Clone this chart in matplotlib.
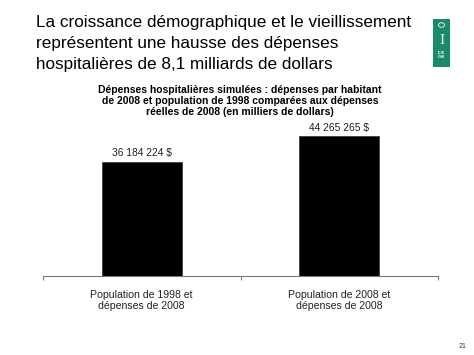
import matplotlib
matplotlib.use("Agg")
import matplotlib.pyplot as plt
from matplotlib.patches import Rectangle, Circle

categories = ["Population de 1998 et\ndépenses de 2008", "Population de 2008 et\ndépenses de 2008"]
values = [36184224, 44265265]
value_labels = ["36 184 224 $", "44 265 265 $"]
title = "La croissance démographique et le vieillissement\nreprésentent une hausse des dépenses\nhospitalières de 8,1 milliards de dollars"
subtitle = "Dépenses hospitalières simulées : dépenses par habitant\nde 2008 et population de 1998 comparées aux dépenses\nréelles de 2008 (en milliers de dollars)"

plt.rcParams['font.family'] = ['Liberation Sans', 'DejaVu Sans']

W, H = 474, 355
fig = plt.figure(figsize=(W / 100, H / 100), dpi=100)

def fx(x):
    return x / W

def fy(y):
    return 1 - y / H

ax_left, ax_right, ax_bottom, ax_top = 43, 438, 276, 125
ax = fig.add_axes([fx(ax_left), fy(ax_bottom), (ax_right - ax_left) / W, (ax_bottom - ax_top) / H])

x = list(range(len(categories)))
ax.bar(x, values, width=0.405, color="black", edgecolor="#333333", linewidth=0.5)
ax.set_xlim(-0.5, 1.5)
ax.set_ylim(0, 47.8e6)

for xi, v, lab in zip(x, values, value_labels):
    ax.annotate(lab, (xi, v), xytext=(0, 2.5), textcoords="offset points",
                ha="center", va="bottom", fontsize=7.4, color="#222222")

for s in ["top", "right", "left"]:
    ax.spines[s].set_visible(False)
ax.spines["bottom"].set_color("#777777")
ax.spines["bottom"].set_linewidth(0.8)
ax.set_yticks([])
ax.set_xticks(x)
ax.set_xticklabels(categories, fontsize=7.6, color="#222222", linespacing=1.1)
ax.tick_params(axis="x", which="major", length=0, pad=10)
ax.set_xticks([-0.5, 0.5, 1.5], minor=True)
ax.tick_params(axis="x", which="minor", length=3, color="#777777", width=0.8)

lines = title.split("\n")
for line, yb in zip(lines, [26.7, 48, 69.3]):
    fig.text(fx(36), fy(yb), line, ha="left", va="baseline", fontsize=12.3, color="black")

fig.text(fx(240), fy(85), subtitle, ha="center", va="top", fontsize=7.5,
         fontweight="bold", color="black", linespacing=1.1)

fig.text(fx(466), fy(346), "21", ha="right", va="center", fontsize=5, color="#333333")

# logo
green = "#1b8a6b"
fig.patches.append(Rectangle((fx(433), fy(67)), 17 / W, 48 / H, transform=fig.transFigure,
                             facecolor=green, edgecolor="none"))
fig.patches.append(Circle((fx(441.5), fy(25)), 3 / W, transform=fig.transFigure,
                          facecolor="none", edgecolor="white", linewidth=0.6))
fig.text(fx(441.5), fy(40), "I", ha="center", va="center", fontsize=11, color="white",
         family="Liberation Serif")
fig.text(fx(441.5), fy(55), "ICIS\nCIHI", ha="center", va="center", fontsize=2.6,
         color="white", fontweight="bold", linespacing=1.1)

fig.savefig("out.png", dpi=100)
